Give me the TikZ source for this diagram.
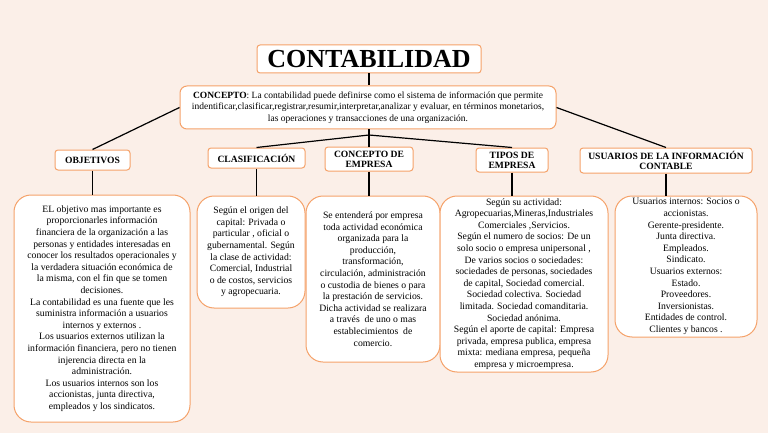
\documentclass[tikz,border=0pt]{standalone}
\usepackage{fontspec}
\setmainfont{Liberation Serif}
\definecolor{bg}{HTML}{FBEFE8}
\definecolor{orng}{HTML}{F5A26A}
\begin{document}
\begin{tikzpicture}[x=1pt,y=-1pt,
  box/.style={draw=orng, line width=1pt, fill=white, align=center, inner sep=1pt},
  head/.style={box, rounded corners=3pt, font=\bfseries\fontsize{9.6}{9.8}\selectfont},
  body/.style={box, rounded corners=17pt, font=\fontsize{9.7}{11.6}\selectfont},
  conn/.style={line width=1.2pt, black}]
\fill[bg] (0,0) rectangle (768,433);
\useasboundingbox (0,0) rectangle (768,433);

\coordinate (fork) at (369,135);

\node[box, rounded corners=3pt, minimum width=224pt, minimum height=28pt,
      font=\bfseries\fontsize{26}{28}\selectfont] (title) at (369,59) {CONTABILIDAD};

\node[box, rounded corners=7pt, minimum width=376pt, minimum height=43pt,
      font=\fontsize{9.5}{11.6}\selectfont] (concepto) at (368,107.5)
  {\textbf{CONCEPTO}: La contabilidad puede definirse como el sistema de información que permite\\
   indentificar,clasificar,registrar,resumir,interpretar,analizar y evaluar, en términos monetarios,\\
   las operaciones y transacciones de una organización.};

\node[head, minimum width=75pt, minimum height=20pt] (objetivos) at (92.5,160) {OBJETIVOS};
\node[head, minimum width=97pt, minimum height=20pt] (clasif) at (256.5,158) {CLASIFICACIÓN};
\node[head, minimum width=88pt, minimum height=24pt] (cempresa) at (369,159) {CONCEPTO DE\\EMPRESA};
\node[head, minimum width=72pt, minimum height=24pt] (tipos) at (512,160) {TIPOS DE\\EMPRESA};
\node[head, minimum width=172pt, minimum height=25pt] (usuarios) at (666,160.5) {USUARIOS DE LA INFORMACIÓN\\CONTABLE};

\node[body, minimum width=176pt, minimum height=227pt] (objbody) at (102,308.5)
 {EL objetivo mas importante es\\
  proporcionarles información\\
  financiera de la organización a las\\
  personas y entidades interesadas en\\
  conocer los resultados operacionales y\\
  la verdadera situación económica de\\
  la misma, con el fin que se tomen\\
  decisiones.\\
  La contabilidad es una fuente que les\\
  suministra información a usuarios\\
  internos y externos .\\
  Los usuarios externos utilizan la\\
  información financiera, pero no tienen\\
  injerencia directa en la\\
  administración.\\
  Los usuarios internos son los\\
  accionistas, junta directiva,\\
  empleados y los sindicatos.};

\node[body, minimum width=108pt, minimum height=112pt] (clasbody) at (251,252)
 {Según el origen del\\
  capital: Privada o\\
  particular , oficial o\\
  gubernamental. Según\\
  la clase de actividad:\\
  Comercial, Industrial\\
  o de costos, servicios\\
  y agropecuaria.};

\node[body, minimum width=134pt, minimum height=166pt] (cebody) at (373,279)
 {Se entenderá por empresa\\
  toda actividad económica\\
  organizada para la\\
  producción,\\
  transformación,\\
  circulación, administración\\
  o custodia de bienes o para\\
  la prestación de servicios.\\
  Dicha actividad se realizara\\
  a través \ de uno o mas\\
  establecimientos \ de\\
  comercio.};

\node[body, minimum width=168pt, minimum height=176pt] (tipobody) at (524,284)
 {Según su actividad:\\
  Agropecuarias,Mineras,Industriales\\
  Comerciales ,Servicios.\\
  Según el numero de socios: De un\\
  solo socio o empresa unipersonal ,\\
  De varios socios o sociedades:\\
  sociedades de personas, sociedades\\
  de capital, Sociedad comercial.\\
  Sociedad colectiva. Sociedad\\
  limitada. Sociedad comanditaria.\\
  Sociedad anónima.\\
  Según el aporte de capital: Empresa\\
  privada, empresa publica, empresa\\
  mixta: mediana empresa, pequeña\\
  empresa y microempresa.};

\node[body, minimum width=142pt, minimum height=141pt] (usubody) at (686,266.5)
 {Usuarios internos: Socios o\\
  accionistas.\\
  Gerente-presidente.\\
  Junta directiva.\\
  Empleados.\\
  Sindicato.\\
  Usuarios externos:\\
  Estado.\\
  Proveedores.\\
  Inversionistas.\\
  Entidades de control.\\
  Clientes y bancos .};

\draw[conn] (title.south) -- (title.south |- concepto.north);
\draw[conn] (concepto.west) -- (objetivos.north);
\draw[conn] (concepto.east) -- (usuarios.north);
\draw[conn] (concepto.south -| fork) -- (fork) -- (cempresa.north);
\draw[conn] (fork) -- (clasif.north);
\draw[conn] (fork) -- (tipos.north);
\draw[conn] (objetivos.south) -- (objetivos.south |- objbody.north);
\draw[conn] (clasif.south) -- (clasif.south |- clasbody.north);
\draw[conn] (cempresa.south) -- (cempresa.south |- cebody.north);
\draw[conn] (tipos.south) -- (tipos.south |- tipobody.north);
\draw[conn] (usuarios.south) -- (usuarios.south |- usubody.north);
\end{tikzpicture}
\end{document}
